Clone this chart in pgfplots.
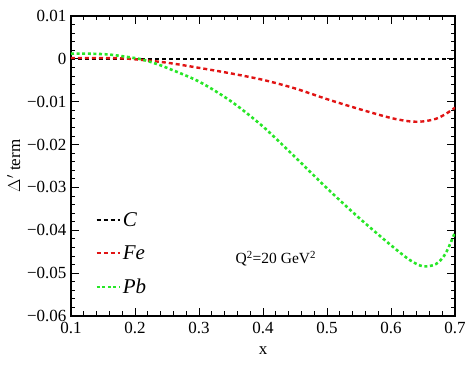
\documentclass[border=0pt]{standalone}
\usepackage{pgfplots}
\pgfplotsset{compat=1.18}
\usepackage{fontspec}
\setmainfont{Liberation Serif}
\definecolor{myred}{RGB}{225,20,20}
\definecolor{mygreen}{RGB}{40,230,40}
\begin{document}
\begin{tikzpicture}
\begin{axis}[
  name=ax,
  scale only axis,
  width=384pt, height=300pt,
  xmin=0.1, xmax=0.7, ymin=-0.06, ymax=0.01,
  scaled y ticks=false, scaled x ticks=false,
  xtick={0.1,0.2,...,0.7},
  xticklabels={0.1,0.2,0.3,0.4,0.5,0.6,0.7},
  ytick={-0.06,-0.05,-0.04,-0.03,-0.02,-0.01,0,0.01},
  yticklabels={−0.06,−0.05,−0.04,−0.03,−0.02,−0.01,0,0.01},
  minor x tick num=4, minor y tick num=4,
  tick align=inside,
  tick pos=both,
  major tick length=8pt, minor tick length=4.5pt,
  every tick/.style={black, line width=0.9pt},
  axis line style={line width=1.2pt},
  tick label style={font=\fontsize{17}{20}\selectfont},
  xticklabel style={yshift=-3pt},
  yticklabel style={xshift=-1pt},
  label style={font=\fontsize{17}{20}\selectfont},
  xlabel={x},
  ylabel={$\Delta^{\prime}$ term},
  xlabel style={yshift=-6pt},
  ylabel style={yshift=0pt},
  legend style={draw=none, fill=none, at={(0.055,0.36)}, anchor=north west,
    font=\fontsize{21}{24}\selectfont\itshape, row sep=14pt},
  legend cell align=left,
  legend image code/.code={\draw[#1] (0pt,0pt) -- (23pt,0pt);},
]
\addplot[black, line width=2.4pt, dash pattern=on 4pt off 3pt] coordinates {(0.1,0) (0.7,0)};
\addlegendentry{C}
\addplot[myred, line width=2.4pt, dash pattern=on 4pt off 3pt, smooth] coordinates {
(0.10,0.0002) (0.15,0.0002) (0.18,0.0001) (0.20,-0.0001) (0.25,-0.0009)
(0.30,-0.0021) (0.35,-0.0034) (0.40,-0.0049) (0.45,-0.0069) (0.50,-0.0094)
(0.55,-0.0117) (0.60,-0.0138) (0.63,-0.0146) (0.65,-0.0146) (0.67,-0.0140)
(0.685,-0.0129) (0.70,-0.0114)};
\addlegendentry{Fe}
\addplot[mygreen, line width=2.6pt, dash pattern=on 3pt off 2.6pt, smooth] coordinates {
(0.10,0.0012) (0.13,0.0012) (0.16,0.0010) (0.19,0.0004) (0.21,-0.0001)
(0.23,-0.0010) (0.25,-0.0021) (0.30,-0.0053) (0.35,-0.0099) (0.40,-0.0158)
(0.45,-0.0229) (0.50,-0.0302) (0.55,-0.0371) (0.60,-0.0435) (0.63,-0.0470)
(0.65,-0.0484) (0.67,-0.0479) (0.685,-0.0455) (0.70,-0.0405)};
\addlegendentry{Pb}
\node[font=\fontsize{15.5}{18}\selectfont] at (axis cs:0.42,-0.0467) {Q\textsuperscript{2}=20 GeV\textsuperscript{2}};
\end{axis}
\path ([shift={(-71pt,-61pt)}]ax.south west) rectangle ([shift={(19pt,16pt)}]ax.north east);
\end{tikzpicture}
\end{document}
